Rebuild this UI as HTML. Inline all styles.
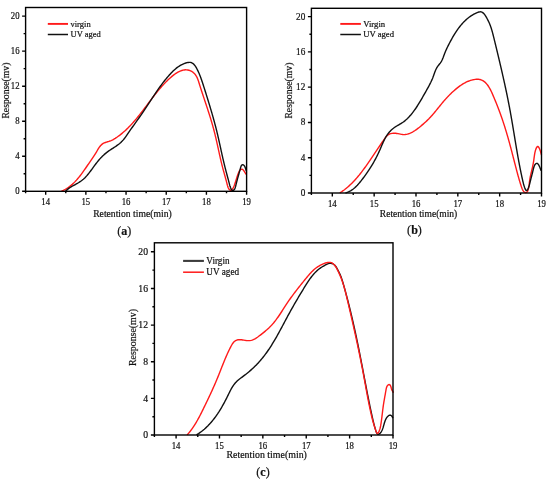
<!DOCTYPE html>
<html><head><meta charset="utf-8"><style>
html,body{margin:0;padding:0;background:#fff;}
body{width:550px;height:481px;overflow:hidden;}
svg{display:block;}
text{font-family:"Liberation Serif", "Times New Roman", serif;fill:#111;stroke:#111;stroke-width:0.2px;}
</style></head><body>
<svg width="550" height="481" viewBox="0 0 550 481">
<rect width="550" height="481" fill="#fff"/>
<path d="M45.69,191.30V194.80 M85.87,191.30V194.80 M126.05,191.30V194.80 M166.24,191.30V194.80 M206.42,191.30V194.80 M246.60,191.30V194.80 M25.60,191.30V193.30 M65.78,191.30V193.30 M105.96,191.30V193.30 M146.15,191.30V193.30 M186.33,191.30V193.30 M226.51,191.30V193.30 M25.60,191.30H22.10 M25.60,156.26H22.10 M25.60,121.22H22.10 M25.60,86.18H22.10 M25.60,51.14H22.10 M25.60,16.10H22.10 M25.60,173.78H23.60 M25.60,138.74H23.60 M25.60,103.70H23.60 M25.60,68.66H23.60 M25.60,33.62H23.60" stroke="#000" stroke-width="1.40" fill="none"/>
<path d="M61.10,191.31 L62.21,190.85 L63.30,190.36 L64.38,189.83 L65.43,189.26 L66.47,188.65 L67.48,188.01 L68.47,187.34 L69.44,186.64 L70.39,185.90 L71.32,185.14 L72.23,184.36 L73.11,183.55 L73.98,182.73 L74.83,181.88 L75.66,181.01 L76.47,180.13 L77.26,179.23 L78.04,178.32 L78.81,177.40 L79.56,176.47 L80.30,175.52 L81.03,174.57 L81.75,173.61 L82.46,172.65 L83.16,171.67 L83.85,170.70 L84.54,169.71 L85.22,168.73 L85.90,167.74 L86.58,166.75 L87.25,165.76 L87.93,164.77 L88.60,163.78 L89.28,162.79 L89.96,161.80 L90.64,160.81 L91.32,159.82 L91.99,158.83 L92.67,157.84 L93.34,156.85 L94.00,155.85 L94.65,154.85 L95.30,153.83 L95.93,152.82 L96.55,151.79 L97.16,150.76 L97.77,149.73 L98.39,148.70 L99.04,147.69 L99.72,146.71 L100.47,145.77 L101.29,144.90 L102.20,144.11 L103.19,143.45 L104.27,142.92 L105.38,142.48 L106.52,142.10 L107.67,141.75 L108.81,141.41 L109.95,141.03 L111.07,140.60 L112.16,140.11 L113.22,139.55 L114.26,138.95 L115.28,138.31 L116.28,137.65 L117.27,136.98 L118.25,136.28 L119.21,135.57 L120.17,134.85 L121.11,134.11 L122.04,133.35 L122.96,132.58 L123.87,131.80 L124.77,131.01 L125.65,130.20 L126.53,129.38 L127.39,128.55 L128.25,127.71 L129.09,126.86 L129.93,126.00 L130.75,125.13 L131.57,124.25 L132.37,123.36 L133.17,122.47 L133.97,121.57 L134.75,120.66 L135.53,119.75 L136.30,118.83 L137.06,117.91 L137.82,116.98 L138.57,116.05 L139.32,115.11 L140.06,114.17 L140.80,113.22 L141.53,112.28 L142.26,111.33 L142.99,110.37 L143.72,109.42 L144.44,108.46 L145.16,107.51 L145.88,106.55 L146.60,105.59 L147.32,104.63 L148.04,103.67 L148.76,102.71 L149.48,101.75 L150.20,100.80 L150.93,99.84 L151.65,98.88 L152.38,97.93 L153.11,96.98 L153.84,96.03 L154.58,95.09 L155.32,94.15 L156.07,93.21 L156.82,92.27 L157.58,91.35 L158.34,90.42 L159.11,89.50 L159.88,88.59 L160.67,87.68 L161.46,86.78 L162.25,85.88 L163.06,85.00 L163.88,84.12 L164.70,83.24 L165.53,82.38 L166.37,81.53 L167.23,80.69 L168.09,79.85 L168.96,79.03 L169.84,78.22 L170.74,77.42 L171.64,76.64 L172.56,75.87 L173.50,75.12 L174.46,74.40 L175.44,73.71 L176.45,73.06 L177.48,72.45 L178.53,71.88 L179.61,71.36 L180.72,70.89 L181.85,70.49 L183.00,70.17 L184.18,69.94 L185.37,69.82 L186.57,69.83 L187.76,69.97 L188.93,70.23 L190.06,70.61 L191.15,71.11 L192.19,71.71 L193.16,72.41 L194.06,73.20 L194.89,74.07 L195.63,75.01 L196.28,76.02 L196.85,77.07 L197.36,78.16 L197.81,79.27 L198.22,80.40 L198.60,81.53 L198.96,82.68 L199.31,83.82 L199.66,84.97 L200.02,86.11 L200.38,87.25 L200.75,88.40 L201.12,89.54 L201.49,90.68 L201.86,91.82 L202.23,92.95 L202.61,94.09 L202.99,95.23 L203.37,96.37 L203.75,97.50 L204.13,98.64 L204.51,99.78 L204.89,100.92 L205.27,102.05 L205.65,103.19 L206.03,104.33 L206.41,105.46 L206.78,106.60 L207.16,107.74 L207.53,108.88 L207.90,110.02 L208.27,111.16 L208.64,112.30 L209.00,113.44 L209.37,114.59 L209.73,115.73 L210.08,116.87 L210.44,118.02 L210.78,119.17 L211.13,120.31 L211.47,121.46 L211.81,122.61 L212.15,123.76 L212.48,124.92 L212.80,126.07 L213.12,127.23 L213.44,128.38 L213.75,129.54 L214.05,130.70 L214.35,131.86 L214.65,133.02 L214.94,134.19 L215.22,135.35 L215.50,136.52 L215.78,137.68 L216.05,138.85 L216.32,140.02 L216.58,141.19 L216.85,142.36 L217.11,143.53 L217.37,144.70 L217.63,145.87 L217.88,147.04 L218.14,148.21 L218.40,149.38 L218.65,150.55 L218.91,151.72 L219.17,152.89 L219.42,154.06 L219.69,155.23 L219.95,156.40 L220.21,157.57 L220.48,158.74 L220.75,159.91 L221.02,161.08 L221.30,162.24 L221.58,163.41 L221.87,164.57 L222.16,165.73 L222.46,166.90 L222.76,168.06 L223.07,169.21 L223.39,170.37 L223.71,171.53 L224.03,172.68 L224.35,173.84 L224.67,174.99 L224.99,176.15 L225.31,177.30 L225.63,178.46 L225.94,179.61 L226.25,180.77 L226.55,181.93 L226.85,183.10 L227.13,184.26 L227.43,185.42 L227.76,186.57 L228.17,187.70 L228.72,188.76 L229.46,189.70 L230.48,190.31 L231.59,189.97 L232.41,189.10 L233.04,188.09 L233.58,187.02 L234.06,185.92 L234.49,184.80 L234.89,183.67 L235.28,182.53 L235.65,181.39 L236.01,180.25 L236.36,179.10 L236.71,177.96 L237.08,176.82 L237.45,175.68 L237.85,174.55 L238.27,173.42 L238.73,172.32 L239.25,171.24 L239.89,170.22 L240.73,169.38 L241.86,169.09 L242.90,169.66 L243.69,170.55 L244.39,171.53 L245.04,172.54 L245.68,173.55 L246.40,174.50" stroke="#ff1a1a" stroke-width="1.40" fill="none" stroke-linejoin="round"/>
<path d="M65.50,191.30 L66.34,190.44 L67.22,189.64 L68.15,188.89 L69.12,188.18 L70.11,187.51 L71.12,186.87 L72.15,186.26 L73.19,185.66 L74.24,185.08 L75.29,184.51 L76.33,183.93 L77.38,183.34 L78.41,182.74 L79.43,182.11 L80.44,181.46 L81.41,180.77 L82.36,180.04 L83.28,179.27 L84.17,178.47 L85.03,177.64 L85.86,176.78 L86.67,175.89 L87.45,174.99 L88.22,174.07 L88.97,173.13 L89.70,172.19 L90.42,171.23 L91.13,170.27 L91.84,169.30 L92.54,168.33 L93.24,167.36 L93.94,166.39 L94.65,165.42 L95.36,164.46 L96.08,163.51 L96.82,162.56 L97.57,161.63 L98.33,160.70 L99.10,159.79 L99.89,158.89 L100.70,158.01 L101.52,157.14 L102.36,156.29 L103.22,155.46 L104.10,154.64 L105.00,153.85 L105.92,153.09 L106.86,152.35 L107.82,151.63 L108.80,150.94 L109.78,150.26 L110.78,149.60 L111.78,148.94 L112.79,148.29 L113.79,147.64 L114.79,146.98 L115.79,146.32 L116.77,145.64 L117.74,144.94 L118.70,144.21 L119.63,143.46 L120.53,142.67 L121.41,141.86 L122.25,141.01 L123.06,140.12 L123.83,139.21 L124.57,138.27 L125.29,137.31 L125.99,136.34 L126.67,135.36 L127.35,134.37 L128.02,133.38 L128.70,132.40 L129.38,131.41 L130.07,130.43 L130.76,129.45 L131.45,128.47 L132.14,127.50 L132.83,126.52 L133.53,125.55 L134.23,124.57 L134.92,123.60 L135.62,122.63 L136.32,121.65 L137.01,120.68 L137.71,119.71 L138.40,118.73 L139.09,117.75 L139.78,116.77 L140.47,115.79 L141.15,114.81 L141.83,113.83 L142.51,112.84 L143.18,111.85 L143.85,110.86 L144.52,109.86 L145.18,108.86 L145.84,107.87 L146.50,106.87 L147.16,105.87 L147.81,104.87 L148.47,103.86 L149.12,102.86 L149.78,101.86 L150.43,100.86 L151.09,99.85 L151.74,98.85 L152.40,97.85 L153.06,96.85 L153.72,95.86 L154.39,94.86 L155.05,93.87 L155.72,92.87 L156.40,91.88 L157.07,90.90 L157.75,89.91 L158.44,88.93 L159.13,87.95 L159.83,86.98 L160.53,86.01 L161.24,85.05 L161.95,84.09 L162.67,83.13 L163.40,82.18 L164.14,81.24 L164.88,80.30 L165.63,79.37 L166.39,78.44 L167.16,77.52 L167.94,76.61 L168.73,75.71 L169.52,74.82 L170.33,73.93 L171.15,73.06 L171.97,72.19 L172.82,71.35 L173.68,70.51 L174.56,69.70 L175.46,68.92 L176.39,68.16 L177.34,67.43 L178.32,66.74 L179.32,66.08 L180.34,65.47 L181.39,64.89 L182.47,64.36 L183.56,63.87 L184.67,63.42 L185.80,63.03 L186.95,62.69 L188.12,62.44 L189.31,62.33 L190.50,62.41 L191.65,62.75 L192.69,63.33 L193.61,64.09 L194.42,64.97 L195.15,65.92 L195.81,66.92 L196.42,67.95 L196.99,69.00 L197.54,70.07 L198.06,71.14 L198.56,72.23 L199.05,73.32 L199.51,74.43 L199.96,75.53 L200.40,76.65 L200.82,77.77 L201.22,78.90 L201.62,80.03 L202.00,81.16 L202.38,82.30 L202.75,83.44 L203.12,84.57 L203.49,85.71 L203.85,86.85 L204.22,87.99 L204.58,89.14 L204.94,90.28 L205.30,91.42 L205.66,92.56 L206.02,93.70 L206.37,94.84 L206.73,95.99 L207.08,97.13 L207.44,98.28 L207.79,99.42 L208.14,100.56 L208.49,101.71 L208.84,102.85 L209.19,104.00 L209.53,105.14 L209.88,106.29 L210.22,107.44 L210.56,108.58 L210.91,109.73 L211.24,110.88 L211.58,112.03 L211.91,113.18 L212.25,114.33 L212.58,115.48 L212.90,116.63 L213.23,117.78 L213.55,118.94 L213.87,120.09 L214.19,121.24 L214.50,122.40 L214.81,123.56 L215.12,124.71 L215.42,125.87 L215.72,127.03 L216.02,128.19 L216.31,129.35 L216.60,130.51 L216.88,131.67 L217.17,132.84 L217.44,134.00 L217.72,135.17 L217.99,136.33 L218.25,137.50 L218.52,138.67 L218.78,139.84 L219.04,141.00 L219.30,142.17 L219.56,143.34 L219.82,144.51 L220.08,145.68 L220.33,146.85 L220.59,148.02 L220.84,149.19 L221.10,150.36 L221.35,151.53 L221.61,152.70 L221.87,153.86 L222.13,155.03 L222.39,156.20 L222.65,157.37 L222.92,158.54 L223.19,159.70 L223.46,160.87 L223.73,162.03 L224.01,163.20 L224.29,164.36 L224.57,165.53 L224.86,166.69 L225.16,167.85 L225.45,169.01 L225.76,170.17 L226.06,171.32 L226.37,172.48 L226.68,173.64 L226.99,174.79 L227.30,175.95 L227.61,177.10 L227.92,178.26 L228.23,179.42 L228.53,180.58 L228.83,181.73 L229.13,182.89 L229.42,184.06 L229.71,185.22 L230.05,186.36 L230.46,187.49 L230.95,188.58 L231.53,189.63 L232.33,190.50 L233.46,190.44 L234.29,189.59 L234.87,188.54 L235.29,187.42 L235.63,186.27 L235.91,185.11 L236.19,183.95 L236.48,182.78 L236.77,181.62 L237.07,180.46 L237.38,179.31 L237.70,178.15 L238.02,177.00 L238.34,175.85 L238.67,174.70 L238.99,173.54 L239.31,172.39 L239.63,171.23 L239.94,170.08 L240.25,168.92 L240.56,167.77 L240.91,166.62 L241.40,165.53 L242.22,164.69 L243.36,164.85 L244.24,165.65 L244.86,166.67 L245.31,167.78 L245.67,168.92 L246.00,170.07 L246.40,171.20" stroke="#111111" stroke-width="1.40" fill="none" stroke-linejoin="round"/>
<rect x="25.60" y="7.50" width="221.00" height="183.80" fill="none" stroke="#000" stroke-width="1.40"/>
<text transform="translate(45.69,205.00) scale(0.930,1)" text-anchor="middle" font-size="9.40">14</text>
<text transform="translate(85.87,205.00) scale(0.930,1)" text-anchor="middle" font-size="9.40">15</text>
<text transform="translate(126.05,205.00) scale(0.930,1)" text-anchor="middle" font-size="9.40">16</text>
<text transform="translate(166.24,205.00) scale(0.930,1)" text-anchor="middle" font-size="9.40">17</text>
<text transform="translate(206.42,205.00) scale(0.930,1)" text-anchor="middle" font-size="9.40">18</text>
<text transform="translate(246.60,205.00) scale(0.930,1)" text-anchor="middle" font-size="9.40">19</text>
<text transform="translate(19.50,194.30) scale(0.930,1)" text-anchor="end" font-size="9.40">0</text>
<text transform="translate(19.50,159.26) scale(0.930,1)" text-anchor="end" font-size="9.40">4</text>
<text transform="translate(19.50,124.22) scale(0.930,1)" text-anchor="end" font-size="9.40">8</text>
<text transform="translate(19.50,89.18) scale(0.930,1)" text-anchor="end" font-size="9.40">12</text>
<text transform="translate(19.50,54.14) scale(0.930,1)" text-anchor="end" font-size="9.40">16</text>
<text transform="translate(19.50,19.10) scale(0.930,1)" text-anchor="end" font-size="9.40">20</text>
<text x="93.20" y="217.20" font-size="9.30" textLength="78.50" lengthAdjust="spacingAndGlyphs">Retention time(min)</text>
<text transform="translate(9.30,118.60) rotate(-90)" font-size="9.30" textLength="56.00" lengthAdjust="spacingAndGlyphs">Response(mv)</text>
<path d="M47.80,23.90H68.00" stroke="#ff1a1a" stroke-width="1.90"/>
<text transform="translate(70.50,26.60) scale(0.967,1)" font-size="8.80">virgin</text>
<path d="M47.80,34.50H68.00" stroke="#111111" stroke-width="1.50"/>
<text transform="translate(70.50,37.20) scale(0.967,1)" font-size="8.80">UV aged</text>
<text transform="translate(124.20,234.60) scale(0.93,1)" font-size="13.00" text-anchor="middle">(<tspan font-weight="bold">a</tspan>)</text>
<path d="M332.32,193.00V196.50 M374.15,193.00V196.50 M415.99,193.00V196.50 M457.83,193.00V196.50 M499.66,193.00V196.50 M541.50,193.00V196.50 M311.40,193.00V195.00 M353.24,193.00V195.00 M395.07,193.00V195.00 M436.91,193.00V195.00 M478.75,193.00V195.00 M520.58,193.00V195.00 M311.40,193.00H307.90 M311.40,157.72H307.90 M311.40,122.44H307.90 M311.40,87.16H307.90 M311.40,51.88H307.90 M311.40,16.60H307.90 M311.40,175.36H309.40 M311.40,140.08H309.40 M311.40,104.80H309.40 M311.40,69.52H309.40 M311.40,34.24H309.40" stroke="#000" stroke-width="1.40" fill="none"/>
<path d="M339.80,192.90 L340.81,192.25 L341.81,191.59 L342.79,190.91 L343.77,190.21 L344.73,189.49 L345.67,188.75 L346.60,188.00 L347.52,187.23 L348.43,186.44 L349.32,185.64 L350.20,184.83 L351.07,184.00 L351.92,183.16 L352.77,182.31 L353.60,181.45 L354.42,180.57 L355.23,179.69 L356.03,178.79 L356.82,177.89 L357.59,176.98 L358.36,176.06 L359.13,175.14 L359.88,174.20 L360.62,173.26 L361.36,172.32 L362.09,171.37 L362.81,170.41 L363.53,169.45 L364.24,168.48 L364.94,167.52 L365.64,166.54 L366.34,165.57 L367.03,164.59 L367.72,163.61 L368.41,162.62 L369.09,161.64 L369.77,160.65 L370.45,159.66 L371.12,158.67 L371.80,157.68 L372.47,156.69 L373.14,155.70 L373.81,154.70 L374.48,153.71 L375.15,152.71 L375.82,151.72 L376.49,150.72 L377.15,149.73 L377.82,148.73 L378.49,147.73 L379.15,146.74 L379.82,145.74 L380.49,144.75 L381.16,143.75 L381.83,142.76 L382.50,141.76 L383.17,140.77 L383.84,139.78 L384.52,138.79 L385.23,137.82 L385.98,136.89 L386.79,136.01 L387.68,135.20 L388.65,134.51 L389.72,133.96 L390.85,133.58 L392.03,133.35 L393.22,133.24 L394.42,133.23 L395.62,133.30 L396.81,133.44 L397.99,133.64 L399.17,133.87 L400.34,134.11 L401.52,134.33 L402.71,134.50 L403.90,134.58 L405.10,134.55 L406.29,134.39 L407.46,134.12 L408.60,133.77 L409.72,133.34 L410.82,132.86 L411.89,132.33 L412.95,131.76 L413.98,131.15 L415.00,130.51 L415.99,129.84 L416.97,129.15 L417.92,128.43 L418.87,127.69 L419.80,126.94 L420.73,126.17 L421.64,125.40 L422.56,124.63 L423.47,123.85 L424.37,123.05 L425.26,122.25 L426.14,121.44 L427.01,120.62 L427.87,119.78 L428.72,118.94 L429.55,118.07 L430.37,117.20 L431.18,116.32 L431.98,115.43 L432.77,114.52 L433.56,113.61 L434.33,112.70 L435.10,111.78 L435.86,110.85 L436.62,109.92 L437.37,108.99 L438.12,108.06 L438.88,107.13 L439.63,106.20 L440.39,105.26 L441.14,104.34 L441.90,103.41 L442.67,102.49 L443.45,101.57 L444.23,100.66 L445.02,99.76 L445.81,98.87 L446.62,97.98 L447.43,97.10 L448.26,96.23 L449.09,95.37 L449.93,94.52 L450.79,93.67 L451.65,92.84 L452.52,92.02 L453.41,91.21 L454.30,90.42 L455.21,89.63 L456.13,88.86 L457.06,88.11 L458.00,87.37 L458.96,86.64 L459.93,85.94 L460.91,85.25 L461.91,84.58 L462.92,83.95 L463.95,83.34 L465.00,82.76 L466.07,82.21 L467.16,81.70 L468.26,81.24 L469.38,80.81 L470.52,80.43 L471.67,80.09 L472.83,79.81 L474.01,79.57 L475.19,79.40 L476.39,79.28 L477.58,79.26 L478.78,79.32 L479.96,79.51 L481.12,79.82 L482.22,80.29 L483.27,80.88 L484.24,81.57 L485.16,82.35 L486.01,83.19 L486.80,84.09 L487.55,85.03 L488.24,86.00 L488.90,87.01 L489.52,88.03 L490.10,89.08 L490.65,90.14 L491.18,91.22 L491.69,92.31 L492.18,93.40 L492.66,94.50 L493.13,95.60 L493.60,96.70 L494.07,97.81 L494.53,98.91 L494.99,100.02 L495.45,101.13 L495.90,102.24 L496.35,103.35 L496.80,104.46 L497.24,105.57 L497.68,106.69 L498.11,107.81 L498.54,108.93 L498.97,110.05 L499.39,111.17 L499.80,112.29 L500.22,113.42 L500.62,114.55 L501.02,115.68 L501.42,116.81 L501.82,117.94 L502.21,119.07 L502.59,120.21 L502.97,121.35 L503.35,122.48 L503.72,123.62 L504.09,124.76 L504.46,125.90 L504.82,127.05 L505.18,128.19 L505.53,129.34 L505.88,130.48 L506.23,131.63 L506.57,132.78 L506.91,133.93 L507.25,135.08 L507.59,136.23 L507.92,137.38 L508.24,138.53 L508.57,139.69 L508.89,140.84 L509.21,142.00 L509.53,143.15 L509.84,144.31 L510.15,145.47 L510.46,146.63 L510.77,147.78 L511.08,148.94 L511.38,150.10 L511.69,151.26 L511.99,152.42 L512.29,153.58 L512.59,154.74 L512.89,155.90 L513.19,157.06 L513.49,158.22 L513.79,159.39 L514.09,160.55 L514.39,161.71 L514.68,162.87 L514.98,164.03 L515.28,165.19 L515.58,166.35 L515.89,167.51 L516.19,168.67 L516.49,169.83 L516.80,170.99 L517.10,172.15 L517.42,173.31 L517.73,174.46 L518.05,175.62 L518.37,176.77 L518.70,177.93 L519.03,179.08 L519.37,180.23 L519.71,181.38 L520.06,182.52 L520.42,183.67 L520.78,184.81 L521.15,185.95 L521.52,187.09 L521.93,188.22 L522.38,189.33 L522.92,190.39 L523.60,191.39 L524.47,192.20 L525.56,192.67 L526.69,192.40 L527.46,191.49 L527.96,190.40 L528.32,189.26 L528.60,188.10 L528.83,186.92 L529.01,185.73 L529.16,184.54 L529.29,183.35 L529.42,182.16 L529.58,180.97 L529.75,179.79 L529.95,178.61 L530.17,177.43 L530.40,176.25 L530.65,175.08 L530.91,173.91 L531.18,172.74 L531.46,171.57 L531.73,170.41 L532.01,169.24 L532.28,168.07 L532.54,166.90 L532.79,165.73 L533.03,164.56 L533.26,163.38 L533.47,162.20 L533.66,161.02 L533.83,159.83 L533.99,158.64 L534.15,157.45 L534.31,156.27 L534.48,155.08 L534.67,153.90 L534.90,152.72 L535.16,151.55 L535.46,150.39 L535.83,149.25 L536.27,148.13 L536.81,147.07 L537.73,146.41 L538.63,147.16 L539.23,148.19 L539.73,149.28 L540.15,150.40 L540.52,151.54 L540.85,152.70 L541.15,153.85 L541.50,155.00" stroke="#ff1a1a" stroke-width="1.40" fill="none" stroke-linejoin="round"/>
<path d="M345.50,193.00 L346.64,192.63 L347.76,192.20 L348.85,191.71 L349.92,191.16 L350.95,190.56 L351.95,189.90 L352.93,189.20 L353.87,188.46 L354.78,187.69 L355.67,186.88 L356.53,186.04 L357.36,185.18 L358.17,184.30 L358.96,183.40 L359.74,182.48 L360.50,181.56 L361.24,180.62 L361.98,179.67 L362.71,178.72 L363.44,177.77 L364.15,176.81 L364.86,175.84 L365.57,174.87 L366.26,173.90 L366.95,172.91 L367.63,171.93 L368.30,170.93 L368.96,169.94 L369.62,168.93 L370.27,167.92 L370.91,166.91 L371.54,165.89 L372.16,164.87 L372.77,163.84 L373.37,162.80 L373.97,161.76 L374.55,160.71 L375.13,159.66 L375.69,158.60 L376.25,157.54 L376.79,156.47 L377.33,155.40 L377.85,154.32 L378.37,153.24 L378.87,152.15 L379.36,151.06 L379.85,149.96 L380.32,148.86 L380.79,147.76 L381.26,146.66 L381.73,145.55 L382.20,144.45 L382.68,143.35 L383.17,142.26 L383.68,141.17 L384.20,140.10 L384.75,139.03 L385.32,137.97 L385.91,136.94 L386.54,135.91 L387.20,134.91 L387.90,133.94 L388.63,132.99 L389.40,132.07 L390.20,131.18 L391.04,130.32 L391.91,129.50 L392.82,128.72 L393.76,127.98 L394.73,127.28 L395.73,126.62 L396.75,125.98 L397.78,125.37 L398.82,124.77 L399.85,124.16 L400.88,123.55 L401.90,122.92 L402.91,122.26 L403.88,121.57 L404.83,120.84 L405.75,120.07 L406.65,119.28 L407.52,118.45 L408.37,117.60 L409.19,116.73 L409.99,115.84 L410.78,114.94 L411.55,114.02 L412.30,113.08 L413.03,112.14 L413.75,111.18 L414.46,110.21 L415.15,109.24 L415.84,108.25 L416.50,107.25 L417.16,106.25 L417.81,105.24 L418.45,104.23 L419.07,103.21 L419.69,102.18 L420.31,101.15 L420.92,100.12 L421.52,99.08 L422.12,98.04 L422.71,97.00 L423.30,95.96 L423.90,94.92 L424.49,93.88 L425.08,92.83 L425.67,91.79 L426.26,90.75 L426.85,89.71 L427.44,88.66 L428.02,87.61 L428.60,86.56 L429.16,85.51 L429.72,84.44 L430.26,83.37 L430.79,82.30 L431.30,81.21 L431.79,80.12 L432.27,79.02 L432.72,77.91 L433.14,76.79 L433.55,75.66 L433.95,74.53 L434.34,73.40 L434.75,72.27 L435.18,71.16 L435.65,70.05 L436.16,68.97 L436.72,67.91 L437.34,66.89 L438.04,65.91 L438.77,64.96 L439.52,64.02 L440.25,63.07 L440.93,62.09 L441.55,61.06 L442.10,60.00 L442.59,58.90 L443.04,57.79 L443.46,56.67 L443.87,55.54 L444.29,54.42 L444.72,53.30 L445.17,52.19 L445.64,51.09 L446.12,49.99 L446.62,48.90 L447.13,47.82 L447.65,46.74 L448.18,45.66 L448.72,44.59 L449.27,43.53 L449.83,42.47 L450.39,41.41 L450.96,40.35 L451.54,39.30 L452.12,38.25 L452.71,37.21 L453.32,36.18 L453.93,35.15 L454.55,34.12 L455.19,33.11 L455.84,32.10 L456.50,31.10 L457.18,30.11 L457.87,29.13 L458.57,28.16 L459.30,27.21 L460.03,26.26 L460.79,25.33 L461.56,24.42 L462.36,23.52 L463.17,22.64 L464.00,21.77 L464.85,20.93 L465.72,20.11 L466.61,19.31 L467.53,18.53 L468.46,17.78 L469.41,17.05 L470.39,16.35 L471.38,15.68 L472.39,15.04 L473.42,14.43 L474.47,13.84 L475.53,13.29 L476.61,12.78 L477.73,12.33 L478.88,11.99 L480.06,11.82 L481.25,11.92 L482.36,12.35 L483.32,13.07 L484.14,13.94 L484.87,14.89 L485.52,15.90 L486.14,16.92 L486.74,17.96 L487.31,19.01 L487.87,20.08 L488.41,21.15 L488.92,22.23 L489.41,23.33 L489.87,24.43 L490.30,25.55 L490.71,26.68 L491.10,27.81 L491.47,28.95 L491.81,30.10 L492.15,31.25 L492.47,32.40 L492.78,33.56 L493.08,34.72 L493.37,35.88 L493.66,37.05 L493.94,38.21 L494.23,39.38 L494.51,40.54 L494.79,41.71 L495.08,42.87 L495.36,44.03 L495.64,45.20 L495.93,46.36 L496.21,47.53 L496.49,48.69 L496.77,49.86 L497.05,51.02 L497.33,52.19 L497.61,53.36 L497.89,54.52 L498.17,55.69 L498.45,56.85 L498.73,58.02 L499.00,59.18 L499.28,60.35 L499.56,61.52 L499.83,62.68 L500.11,63.85 L500.38,65.02 L500.65,66.18 L500.93,67.35 L501.20,68.52 L501.47,69.69 L501.74,70.85 L502.00,72.02 L502.27,73.19 L502.54,74.36 L502.80,75.53 L503.07,76.70 L503.33,77.87 L503.59,79.04 L503.85,80.21 L504.11,81.38 L504.37,82.55 L504.63,83.72 L504.88,84.89 L505.14,86.06 L505.39,87.23 L505.64,88.40 L505.89,89.58 L506.14,90.75 L506.39,91.92 L506.63,93.09 L506.88,94.27 L507.12,95.44 L507.36,96.62 L507.60,97.79 L507.83,98.97 L508.07,100.14 L508.30,101.32 L508.53,102.49 L508.76,103.67 L508.99,104.85 L509.22,106.02 L509.44,107.20 L509.66,108.38 L509.88,109.56 L510.10,110.74 L510.32,111.91 L510.53,113.09 L510.74,114.27 L510.95,115.45 L511.16,116.63 L511.37,117.81 L511.57,119.00 L511.78,120.18 L511.98,121.36 L512.18,122.54 L512.38,123.72 L512.58,124.90 L512.78,126.08 L512.98,127.27 L513.17,128.45 L513.37,129.63 L513.57,130.81 L513.76,132.00 L513.96,133.18 L514.15,134.36 L514.35,135.54 L514.54,136.73 L514.74,137.91 L514.93,139.09 L515.13,140.27 L515.32,141.46 L515.52,142.64 L515.72,143.82 L515.92,145.00 L516.11,146.19 L516.31,147.37 L516.51,148.55 L516.71,149.73 L516.92,150.91 L517.12,152.09 L517.33,153.27 L517.53,154.46 L517.74,155.64 L517.95,156.82 L518.16,158.00 L518.38,159.17 L518.59,160.35 L518.81,161.53 L519.03,162.71 L519.25,163.89 L519.48,165.07 L519.70,166.24 L519.93,167.42 L520.17,168.59 L520.40,169.77 L520.64,170.95 L520.88,172.12 L521.12,173.29 L521.37,174.47 L521.62,175.64 L521.87,176.81 L522.13,177.98 L522.39,179.15 L522.65,180.32 L522.92,181.49 L523.20,182.65 L523.49,183.82 L523.81,184.97 L524.15,186.12 L524.53,187.26 L524.95,188.38 L525.42,189.48 L526.04,190.50 L527.05,190.37 L527.71,189.37 L528.23,188.29 L528.67,187.18 L529.05,186.04 L529.39,184.89 L529.69,183.73 L529.98,182.57 L530.26,181.40 L530.55,180.24 L530.84,179.08 L531.14,177.92 L531.44,176.76 L531.75,175.60 L532.05,174.44 L532.35,173.28 L532.64,172.12 L532.92,170.95 L533.19,169.78 L533.46,168.62 L533.77,167.46 L534.16,166.32 L534.66,165.24 L535.30,164.23 L536.16,163.40 L537.29,163.35 L538.16,164.16 L538.81,165.17 L539.35,166.24 L539.82,167.34 L540.26,168.46 L540.67,169.58 L541.10,170.70" stroke="#111111" stroke-width="1.40" fill="none" stroke-linejoin="round"/>
<rect x="311.40" y="8.30" width="230.10" height="184.70" fill="none" stroke="#000" stroke-width="1.40"/>
<text transform="translate(332.32,206.80) scale(0.930,1)" text-anchor="middle" font-size="9.40">14</text>
<text transform="translate(374.15,206.80) scale(0.930,1)" text-anchor="middle" font-size="9.40">15</text>
<text transform="translate(415.99,206.80) scale(0.930,1)" text-anchor="middle" font-size="9.40">16</text>
<text transform="translate(457.83,206.80) scale(0.930,1)" text-anchor="middle" font-size="9.40">17</text>
<text transform="translate(499.66,206.80) scale(0.930,1)" text-anchor="middle" font-size="9.40">18</text>
<text transform="translate(541.50,206.80) scale(0.930,1)" text-anchor="middle" font-size="9.40">19</text>
<text transform="translate(305.30,196.00) scale(0.980,1)" text-anchor="end" font-size="9.40">0</text>
<text transform="translate(305.30,160.72) scale(0.980,1)" text-anchor="end" font-size="9.40">4</text>
<text transform="translate(305.30,125.44) scale(0.980,1)" text-anchor="end" font-size="9.40">8</text>
<text transform="translate(305.30,90.16) scale(0.980,1)" text-anchor="end" font-size="9.40">12</text>
<text transform="translate(305.30,54.88) scale(0.980,1)" text-anchor="end" font-size="9.40">16</text>
<text transform="translate(305.30,19.60) scale(0.980,1)" text-anchor="end" font-size="9.40">20</text>
<text x="379.80" y="217.10" font-size="9.30" textLength="77.50" lengthAdjust="spacingAndGlyphs">Retention time(min)</text>
<text transform="translate(291.50,118.60) rotate(-90)" font-size="9.30" textLength="56.00" lengthAdjust="spacingAndGlyphs">Response(mv)</text>
<path d="M340.30,23.90H360.90" stroke="#ff1a1a" stroke-width="1.90"/>
<text transform="translate(363.20,26.80) scale(0.985,1)" font-size="8.80">Virgin</text>
<path d="M340.30,34.50H360.90" stroke="#111111" stroke-width="1.50"/>
<text transform="translate(363.20,37.40) scale(0.985,1)" font-size="8.80">UV aged</text>
<text transform="translate(414.50,234.40) scale(0.93,1)" font-size="13.00" text-anchor="middle">(<tspan font-weight="bold">b</tspan>)</text>
<path d="M176.09,435.00V438.50 M219.47,435.00V438.50 M262.85,435.00V438.50 M306.24,435.00V438.50 M349.62,435.00V438.50 M393.00,435.00V438.50 M154.40,435.00V437.00 M197.78,435.00V437.00 M241.16,435.00V437.00 M284.55,435.00V437.00 M327.93,435.00V437.00 M371.31,435.00V437.00 M154.40,435.00H150.90 M154.40,398.36H150.90 M154.40,361.72H150.90 M154.40,325.08H150.90 M154.40,288.44H150.90 M154.40,251.80H150.90 M154.40,416.68H152.40 M154.40,380.04H152.40 M154.40,343.40H152.40 M154.40,306.76H152.40 M154.40,270.12H152.40" stroke="#000" stroke-width="1.40" fill="none"/>
<path d="M196.50,434.80 L197.53,434.19 L198.54,433.55 L199.54,432.88 L200.52,432.19 L201.48,431.48 L202.43,430.75 L203.36,429.99 L204.27,429.22 L205.17,428.42 L206.05,427.61 L206.91,426.79 L207.77,425.94 L208.60,425.08 L209.42,424.21 L210.23,423.33 L211.02,422.43 L211.80,421.52 L212.56,420.60 L213.32,419.66 L214.05,418.72 L214.78,417.77 L215.49,416.81 L216.19,415.83 L216.88,414.85 L217.56,413.87 L218.22,412.87 L218.88,411.87 L219.52,410.85 L220.15,409.84 L220.77,408.81 L221.39,407.78 L221.99,406.75 L222.58,405.71 L223.17,404.66 L223.74,403.61 L224.31,402.56 L224.87,401.50 L225.43,400.44 L225.98,399.38 L226.52,398.31 L227.06,397.24 L227.59,396.16 L228.11,395.09 L228.64,394.01 L229.16,392.94 L229.70,391.86 L230.24,390.80 L230.80,389.73 L231.37,388.68 L231.97,387.65 L232.60,386.63 L233.25,385.62 L233.94,384.65 L234.67,383.70 L235.44,382.78 L236.26,381.90 L237.12,381.07 L238.01,380.27 L238.93,379.50 L239.87,378.76 L240.82,378.03 L241.78,377.32 L242.75,376.61 L243.71,375.89 L244.67,375.17 L245.61,374.44 L246.56,373.70 L247.49,372.95 L248.41,372.19 L249.33,371.42 L250.24,370.64 L251.14,369.85 L252.03,369.05 L252.91,368.24 L253.78,367.42 L254.65,366.58 L255.50,365.74 L256.34,364.89 L257.18,364.03 L258.00,363.16 L258.81,362.28 L259.61,361.39 L260.40,360.49 L261.18,359.58 L261.94,358.66 L262.70,357.73 L263.45,356.79 L264.18,355.85 L264.91,354.89 L265.62,353.93 L266.33,352.97 L267.03,351.99 L267.71,351.01 L268.39,350.02 L269.06,349.03 L269.73,348.03 L270.38,347.03 L271.03,346.02 L271.67,345.01 L272.30,343.99 L272.93,342.97 L273.55,341.95 L274.16,340.92 L274.77,339.89 L275.37,338.85 L275.97,337.82 L276.57,336.78 L277.15,335.73 L277.74,334.69 L278.32,333.64 L278.90,332.59 L279.47,331.54 L280.04,330.49 L280.61,329.43 L281.18,328.38 L281.75,327.32 L282.31,326.27 L282.88,325.21 L283.44,324.15 L284.00,323.10 L284.56,322.04 L285.12,320.98 L285.69,319.92 L286.25,318.87 L286.82,317.81 L287.38,316.76 L287.95,315.70 L288.53,314.65 L289.10,313.60 L289.68,312.55 L290.25,311.50 L290.84,310.45 L291.42,309.41 L292.00,308.36 L292.59,307.32 L293.18,306.28 L293.78,305.24 L294.37,304.20 L294.97,303.16 L295.57,302.12 L296.17,301.09 L296.77,300.05 L297.38,299.02 L297.99,297.99 L298.60,296.96 L299.21,295.93 L299.83,294.90 L300.45,293.87 L301.06,292.85 L301.69,291.82 L302.31,290.80 L302.94,289.78 L303.56,288.76 L304.19,287.74 L304.82,286.72 L305.46,285.71 L306.09,284.69 L306.74,283.68 L307.38,282.67 L308.04,281.67 L308.71,280.68 L309.38,279.69 L310.08,278.71 L310.78,277.74 L311.50,276.79 L312.24,275.85 L313.00,274.92 L313.78,274.01 L314.59,273.12 L315.41,272.26 L316.27,271.41 L317.14,270.60 L318.05,269.81 L318.98,269.06 L319.94,268.35 L320.92,267.67 L321.94,267.02 L322.96,266.41 L324.00,265.81 L325.05,265.23 L326.10,264.65 L327.16,264.11 L328.27,263.65 L329.43,263.34 L330.62,263.27 L331.80,263.45 L332.92,263.88 L333.94,264.50 L334.83,265.29 L335.61,266.21 L336.28,267.20 L336.89,268.23 L337.46,269.28 L338.02,270.34 L338.58,271.40 L339.12,272.47 L339.65,273.54 L340.13,274.64 L340.59,275.74 L341.03,276.86 L341.44,277.99 L341.83,279.12 L342.20,280.26 L342.55,281.40 L342.90,282.55 L343.23,283.70 L343.56,284.85 L343.89,286.00 L344.21,287.16 L344.53,288.31 L344.85,289.46 L345.17,290.62 L345.49,291.77 L345.80,292.93 L346.11,294.09 L346.42,295.24 L346.73,296.40 L347.03,297.56 L347.34,298.72 L347.64,299.88 L347.94,301.04 L348.23,302.20 L348.53,303.36 L348.82,304.52 L349.11,305.68 L349.40,306.84 L349.69,308.01 L349.98,309.17 L350.26,310.33 L350.55,311.50 L350.83,312.66 L351.11,313.82 L351.38,314.99 L351.66,316.16 L351.93,317.32 L352.21,318.49 L352.48,319.65 L352.75,320.82 L353.01,321.99 L353.28,323.16 L353.55,324.32 L353.81,325.49 L354.07,326.66 L354.33,327.83 L354.59,329.00 L354.85,330.17 L355.10,331.34 L355.36,332.51 L355.61,333.68 L355.86,334.85 L356.11,336.02 L356.36,337.20 L356.61,338.37 L356.85,339.54 L357.10,340.71 L357.34,341.88 L357.59,343.06 L357.83,344.23 L358.07,345.40 L358.31,346.58 L358.54,347.75 L358.78,348.93 L359.02,350.10 L359.25,351.27 L359.49,352.45 L359.72,353.62 L359.95,354.80 L360.18,355.97 L360.41,357.15 L360.64,358.33 L360.87,359.50 L361.10,360.68 L361.32,361.85 L361.55,363.03 L361.78,364.21 L362.00,365.38 L362.23,366.56 L362.45,367.73 L362.68,368.91 L362.90,370.09 L363.12,371.26 L363.35,372.44 L363.57,373.62 L363.80,374.79 L364.02,375.97 L364.24,377.15 L364.47,378.32 L364.69,379.50 L364.92,380.68 L365.14,381.85 L365.37,383.03 L365.59,384.21 L365.82,385.38 L366.04,386.56 L366.27,387.74 L366.50,388.91 L366.73,390.09 L366.95,391.26 L367.18,392.44 L367.41,393.61 L367.65,394.79 L367.88,395.96 L368.11,397.14 L368.35,398.31 L368.58,399.49 L368.82,400.66 L369.05,401.84 L369.29,403.01 L369.53,404.18 L369.78,405.36 L370.02,406.53 L370.26,407.70 L370.51,408.87 L370.76,410.04 L371.01,411.22 L371.26,412.39 L371.51,413.56 L371.77,414.73 L372.02,415.90 L372.28,417.07 L372.54,418.24 L372.81,419.40 L373.08,420.57 L373.36,421.73 L373.65,422.90 L373.94,424.06 L374.24,425.22 L374.55,426.38 L374.87,427.53 L375.20,428.68 L375.55,429.83 L375.92,430.97 L376.33,432.09 L376.82,433.18 L377.56,434.12 L378.69,434.27 L379.70,433.65 L380.53,432.79 L381.23,431.81 L381.82,430.77 L382.32,429.68 L382.74,428.56 L383.12,427.43 L383.46,426.28 L383.79,425.13 L384.11,423.97 L384.45,422.82 L384.81,421.68 L385.22,420.56 L385.68,419.45 L386.23,418.39 L386.88,417.38 L387.65,416.47 L388.56,415.69 L389.64,415.19 L390.81,415.29 L391.75,416.01 L392.41,417.01 L392.90,418.10" stroke="#111111" stroke-width="1.40" fill="none" stroke-linejoin="round"/>
<path d="M187.10,434.90 L187.91,434.01 L188.69,433.10 L189.46,432.18 L190.21,431.25 L190.94,430.30 L191.65,429.33 L192.35,428.36 L193.04,427.37 L193.70,426.38 L194.36,425.37 L195.00,424.36 L195.63,423.34 L196.24,422.31 L196.85,421.27 L197.44,420.23 L198.03,419.18 L198.60,418.13 L199.17,417.07 L199.73,416.01 L200.28,414.95 L200.82,413.88 L201.36,412.81 L201.90,411.74 L202.43,410.66 L202.96,409.59 L203.49,408.51 L204.02,407.43 L204.54,406.35 L205.07,405.28 L205.59,404.20 L206.11,403.12 L206.64,402.04 L207.15,400.96 L207.67,399.88 L208.19,398.79 L208.70,397.71 L209.21,396.62 L209.72,395.54 L210.23,394.45 L210.74,393.37 L211.24,392.28 L211.74,391.19 L212.24,390.09 L212.73,389.00 L213.22,387.91 L213.71,386.81 L214.20,385.72 L214.68,384.62 L215.15,383.52 L215.63,382.42 L216.10,381.31 L216.56,380.21 L217.03,379.10 L217.49,377.99 L217.94,376.88 L218.39,375.77 L218.84,374.66 L219.28,373.54 L219.72,372.43 L220.17,371.32 L220.61,370.20 L221.04,369.08 L221.48,367.97 L221.92,366.85 L222.36,365.74 L222.81,364.62 L223.25,363.51 L223.70,362.39 L224.15,361.28 L224.60,360.17 L225.06,359.07 L225.53,357.96 L226.00,356.86 L226.48,355.76 L226.97,354.66 L227.46,353.57 L227.97,352.48 L228.48,351.40 L229.00,350.32 L229.53,349.24 L230.07,348.17 L230.61,347.10 L231.17,346.04 L231.75,344.99 L232.37,343.96 L233.05,342.98 L233.80,342.05 L234.67,341.22 L235.66,340.55 L236.76,340.08 L237.93,339.80 L239.12,339.69 L240.32,339.71 L241.52,339.81 L242.70,339.97 L243.89,340.15 L245.08,340.33 L246.26,340.49 L247.46,340.61 L248.66,340.65 L249.85,340.59 L251.03,340.39 L252.19,340.07 L253.31,339.64 L254.39,339.13 L255.44,338.54 L256.46,337.91 L257.45,337.23 L258.42,336.53 L259.37,335.80 L260.32,335.07 L261.27,334.33 L262.21,333.60 L263.16,332.85 L264.09,332.10 L265.02,331.34 L265.94,330.57 L266.85,329.79 L267.74,328.99 L268.63,328.18 L269.49,327.35 L270.34,326.51 L271.17,325.64 L271.99,324.76 L272.78,323.86 L273.56,322.95 L274.32,322.02 L275.06,321.08 L275.80,320.13 L276.51,319.17 L277.22,318.20 L277.92,317.22 L278.60,316.24 L279.28,315.25 L279.95,314.26 L280.61,313.26 L281.27,312.25 L281.92,311.25 L282.57,310.24 L283.22,309.23 L283.86,308.22 L284.51,307.21 L285.16,306.20 L285.81,305.20 L286.47,304.19 L287.13,303.19 L287.80,302.19 L288.47,301.20 L289.15,300.21 L289.84,299.23 L290.53,298.25 L291.23,297.28 L291.93,296.31 L292.64,295.34 L293.36,294.38 L294.08,293.42 L294.80,292.46 L295.53,291.51 L296.26,290.56 L297.00,289.61 L297.74,288.67 L298.48,287.73 L299.23,286.79 L299.97,285.85 L300.72,284.91 L301.47,283.98 L302.22,283.04 L302.98,282.11 L303.73,281.18 L304.49,280.25 L305.24,279.31 L306.00,278.38 L306.76,277.46 L307.52,276.53 L308.30,275.62 L309.08,274.71 L309.88,273.81 L310.69,272.93 L311.51,272.06 L312.36,271.21 L313.23,270.38 L314.12,269.58 L315.03,268.80 L315.97,268.06 L316.94,267.35 L317.93,266.67 L318.95,266.04 L319.99,265.44 L321.05,264.88 L322.13,264.36 L323.22,263.87 L324.33,263.42 L325.47,263.03 L326.62,262.70 L327.79,262.46 L328.99,262.35 L330.18,262.40 L331.35,262.69 L332.42,263.22 L333.38,263.94 L334.22,264.79 L334.97,265.72 L335.65,266.71 L336.28,267.73 L336.86,268.78 L337.42,269.84 L337.96,270.91 L338.48,271.99 L338.99,273.08 L339.49,274.17 L339.96,275.27 L340.43,276.38 L340.87,277.49 L341.31,278.61 L341.73,279.73 L342.13,280.86 L342.52,281.99 L342.90,283.13 L343.27,284.27 L343.62,285.42 L343.97,286.57 L344.30,287.72 L344.63,288.87 L344.94,290.03 L345.25,291.19 L345.55,292.35 L345.85,293.51 L346.14,294.67 L346.42,295.84 L346.70,297.01 L346.98,298.17 L347.26,299.34 L347.53,300.51 L347.81,301.67 L348.08,302.84 L348.35,304.01 L348.63,305.18 L348.90,306.35 L349.17,307.51 L349.44,308.68 L349.71,309.85 L349.98,311.02 L350.25,312.19 L350.52,313.36 L350.79,314.52 L351.06,315.69 L351.33,316.86 L351.59,318.03 L351.86,319.20 L352.13,320.37 L352.39,321.54 L352.66,322.71 L352.92,323.88 L353.19,325.05 L353.45,326.22 L353.71,327.39 L353.97,328.56 L354.24,329.73 L354.50,330.90 L354.76,332.07 L355.01,333.24 L355.27,334.41 L355.53,335.58 L355.79,336.76 L356.04,337.93 L356.30,339.10 L356.55,340.27 L356.80,341.44 L357.06,342.62 L357.31,343.79 L357.56,344.96 L357.81,346.13 L358.05,347.31 L358.30,348.48 L358.55,349.65 L358.79,350.83 L359.04,352.00 L359.28,353.18 L359.52,354.35 L359.77,355.53 L360.01,356.70 L360.25,357.88 L360.48,359.05 L360.72,360.23 L360.96,361.40 L361.19,362.58 L361.42,363.76 L361.65,364.93 L361.89,366.11 L362.12,367.29 L362.34,368.46 L362.57,369.64 L362.80,370.82 L363.02,372.00 L363.24,373.18 L363.46,374.35 L363.68,375.53 L363.90,376.71 L364.12,377.89 L364.34,379.07 L364.55,380.25 L364.77,381.43 L364.98,382.61 L365.19,383.79 L365.41,384.97 L365.62,386.15 L365.84,387.33 L366.05,388.51 L366.26,389.69 L366.48,390.87 L366.70,392.05 L366.91,393.23 L367.13,394.41 L367.35,395.59 L367.57,396.77 L367.80,397.94 L368.02,399.12 L368.25,400.30 L368.48,401.48 L368.71,402.65 L368.95,403.83 L369.19,405.00 L369.43,406.18 L369.67,407.35 L369.92,408.53 L370.17,409.70 L370.43,410.87 L370.69,412.04 L370.95,413.21 L371.22,414.38 L371.49,415.55 L371.77,416.72 L372.05,417.88 L372.34,419.04 L372.64,420.21 L372.95,421.36 L373.27,422.52 L373.60,423.67 L373.95,424.82 L374.31,425.96 L374.69,427.10 L375.07,428.24 L375.44,429.38 L375.81,430.52 L376.19,431.66 L376.65,432.76 L377.50,433.49 L378.34,432.68 L378.89,431.62 L379.35,430.51 L379.75,429.38 L380.09,428.23 L380.37,427.06 L380.61,425.89 L380.81,424.71 L381.01,423.52 L381.19,422.34 L381.36,421.15 L381.52,419.96 L381.67,418.77 L381.83,417.58 L381.97,416.39 L382.12,415.20 L382.26,414.01 L382.40,412.82 L382.54,411.63 L382.69,410.44 L382.83,409.25 L382.99,408.06 L383.15,406.87 L383.31,405.68 L383.48,404.50 L383.67,403.31 L383.86,402.13 L384.06,400.94 L384.27,399.76 L384.47,398.58 L384.69,397.40 L384.90,396.22 L385.11,395.04 L385.32,393.86 L385.52,392.68 L385.73,391.50 L385.93,390.31 L386.14,389.13 L386.41,387.96 L386.77,386.82 L387.30,385.75 L388.11,384.88 L389.23,384.53 L390.22,385.14 L390.75,386.21 L391.10,387.35 L391.40,388.52 L391.73,389.67 L392.25,390.74 L393.03,391.61 L393.20,392.80" stroke="#ff1a1a" stroke-width="1.40" fill="none" stroke-linejoin="round"/>
<rect x="154.40" y="242.80" width="238.60" height="192.20" fill="none" stroke="#000" stroke-width="1.40"/>
<text transform="translate(176.09,449.00) scale(0.930,1)" text-anchor="middle" font-size="9.40">14</text>
<text transform="translate(219.47,449.00) scale(0.930,1)" text-anchor="middle" font-size="9.40">15</text>
<text transform="translate(262.85,449.00) scale(0.930,1)" text-anchor="middle" font-size="9.40">16</text>
<text transform="translate(306.24,449.00) scale(0.930,1)" text-anchor="middle" font-size="9.40">17</text>
<text transform="translate(349.62,449.00) scale(0.930,1)" text-anchor="middle" font-size="9.40">18</text>
<text transform="translate(393.00,449.00) scale(0.930,1)" text-anchor="middle" font-size="9.40">19</text>
<text transform="translate(148.00,438.30) scale(1.030,1)" text-anchor="end" font-size="9.40">0</text>
<text transform="translate(148.00,401.66) scale(1.030,1)" text-anchor="end" font-size="9.40">4</text>
<text transform="translate(148.00,365.02) scale(1.030,1)" text-anchor="end" font-size="9.40">8</text>
<text transform="translate(148.00,328.38) scale(1.030,1)" text-anchor="end" font-size="9.40">12</text>
<text transform="translate(148.00,291.74) scale(1.030,1)" text-anchor="end" font-size="9.40">16</text>
<text transform="translate(148.00,255.10) scale(1.030,1)" text-anchor="end" font-size="9.40">20</text>
<text x="226.40" y="457.60" font-size="9.50" textLength="80.50" lengthAdjust="spacingAndGlyphs">Retention time(min)</text>
<text transform="translate(135.80,366.00) rotate(-90)" font-size="9.50" textLength="57.00" lengthAdjust="spacingAndGlyphs">Response(mv)</text>
<path d="M183.10,260.90H203.90" stroke="#3c3c3c" stroke-width="2.10"/>
<text transform="translate(206.30,263.90) scale(0.990,1)" font-size="9.30">Virgin</text>
<path d="M183.10,272.20H203.90" stroke="#ff1a1a" stroke-width="1.50"/>
<text transform="translate(206.30,275.20) scale(0.990,1)" font-size="9.30">UV aged</text>
<text transform="translate(263.00,476.00) scale(0.93,1)" font-size="13.00" text-anchor="middle">(<tspan font-weight="bold">c</tspan>)</text>
</svg>
</body></html>
